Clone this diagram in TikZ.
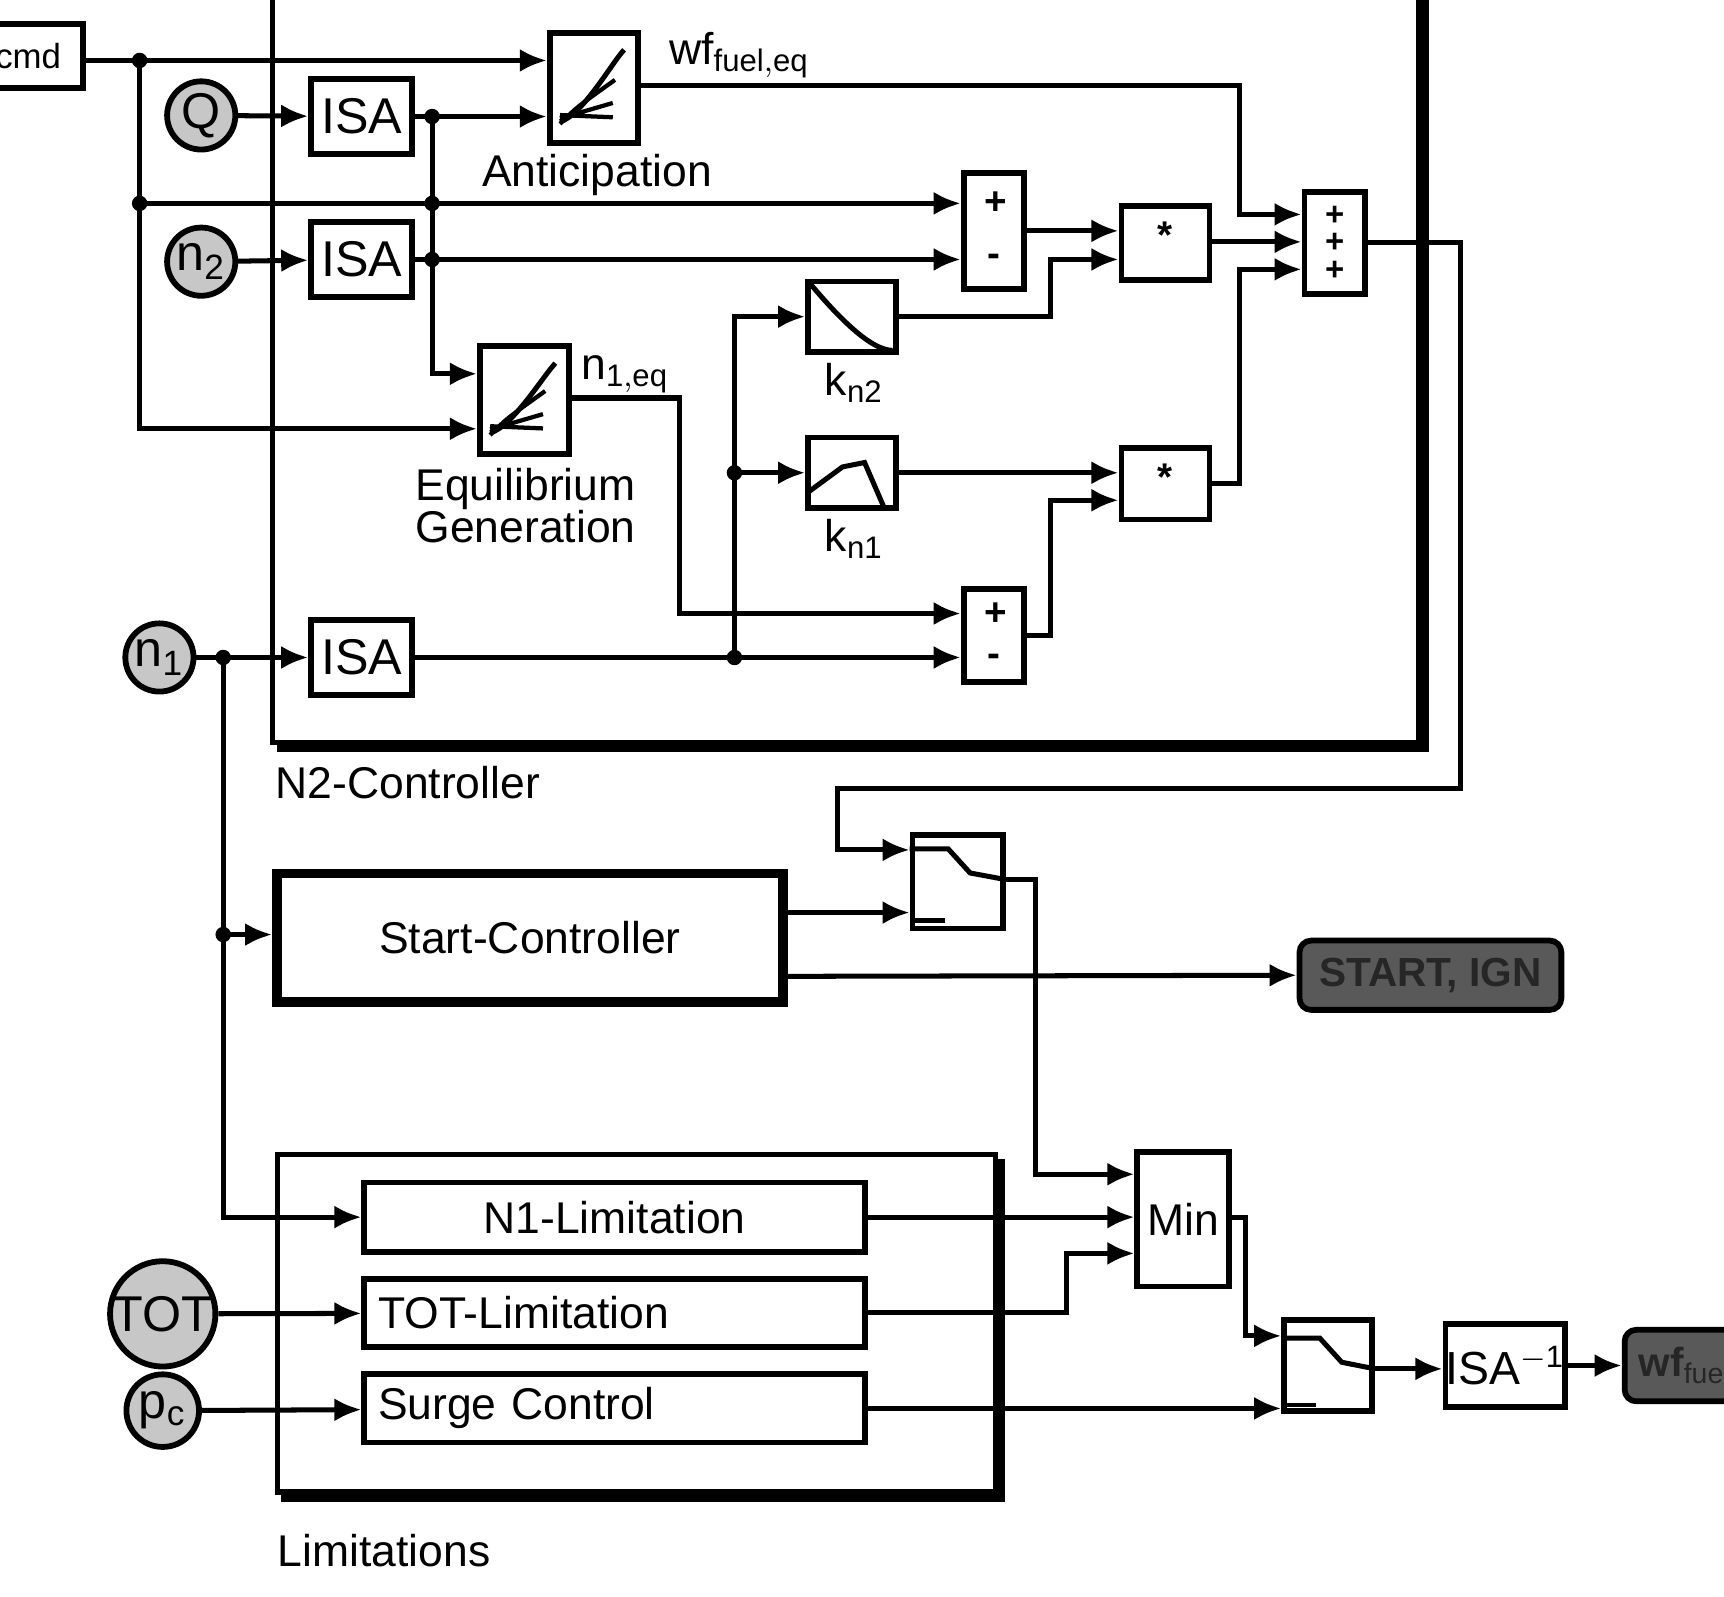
\documentclass[tikz,border=0pt]{standalone}
\usepackage{fontspec}
\setmainfont{Liberation Sans}
\usetikzlibrary{arrows.meta,calc}
\begin{document}
\begin{tikzpicture}[x=0.01cm,y=-0.01cm,
  ln/.style={line width=1.3pt},
  ar/.style={ln,-{Latex[length=7pt,width=6pt]}},
  blk/.style={draw,line width=1.5pt,inner sep=0pt,font=\fontsize{13pt}{15pt}\selectfont},
  sml/.style={draw,line width=1.5pt,inner sep=0pt,font=\fontsize{9pt}{10pt}\selectfont},
  big/.style={draw,line width=1.5pt,inner sep=0pt,font=\fontsize{11.5pt}{13pt}\selectfont},
  inp/.style={draw,circle,line width=1.5pt,fill=black!22,inner sep=0pt,font=\fontsize{13pt}{15pt}\selectfont},
  dark/.style={draw,line width=1.5pt,rounded corners=3pt,fill=black!65,text=black!85,inner sep=0pt,font=\bfseries\fontsize{10.5pt}{12pt}\selectfont},
  lbl/.style={font=\fontsize{11.5pt}{13pt}\selectfont,inner sep=0pt},
  op/.style={font=\bfseries\fontsize{10pt}{10pt}\selectfont,inner sep=0pt},
  dot/.style={circle,fill,inner sep=0pt,minimum size=4pt}]
\useasboundingbox (0,0) rectangle (1568,1452);
% frames
\draw[line width=1.3pt] (248,-20) -- (248,675) -- (1290,675) -- (1290,-20);
\draw[line width=3pt] (1294,-20) -- (1294,679) -- (252,679);
\node[lbl,anchor=west] (n2lab) at (250,712) {N2-Controller};
\draw[line width=1.3pt] (252,1050) rectangle (905,1357);
\draw[line width=3pt] (909,1054) -- (909,1361) -- (256,1361);
\node[lbl,anchor=west] (limlab) at (252,1410) {Limitations};
% blocks
\node[sml,minimum width=1.05cm,minimum height=0.58cm] (cmd) at (23,51) {\,cmd};
\node[inp,minimum size=0.62cm] (Q) at (183,105) {Q};
\node[inp,minimum size=0.62cm] (n2) at (183,238) {n$_{\mathrm 2}$};
\node[inp,minimum size=0.62cm] (n1) at (145,598) {n$_{\mathrm 1}$};
\node[inp,minimum size=0.85cm] (TOT) at (148,1195) {TOT};
\node[inp,minimum size=0.66cm] (pc) at (148,1283) {p$_{\mathrm c}$};
\node[blk,minimum width=0.92cm,minimum height=0.68cm] (isa1) at (329,106) {ISA};
\node[blk,minimum width=0.92cm,minimum height=0.68cm] (isa2) at (329,236) {ISA};
\node[blk,minimum width=0.92cm,minimum height=0.68cm] (isa3) at (329,598) {ISA};
\node[draw,line width=1.5pt,minimum width=0.8cm,minimum height=1.0cm] (ant) at (540,80) {};
\node[lbl,anchor=north] (antlab) at (543,140) {Anticipation};
\node[lbl,anchor=south west] (wfeq) at (608,72) {wf$_{\mathrm{fuel,eq}}$};
\node[draw,line width=1.5pt,minimum width=0.81cm,minimum height=0.98cm] (eq) at (477,364) {};
\node[lbl,anchor=north,align=center] (eqlab) at (478,425) {Equilibrium\\[-2pt]Generation};
\node[lbl,anchor=south west] (n1eq) at (528,358) {n$_{\mathrm{1,eq}}$};
\node[draw,line width=1.5pt,minimum width=0.8cm,minimum height=0.64cm] (kn2) at (775,288) {};
\node[lbl] (kn2lab) at (777,348) {k$_{\mathrm{n2}}$};
\node[draw,line width=1.5pt,minimum width=0.8cm,minimum height=0.64cm] (kn1) at (775,430) {};
\node[lbl] (kn1lab) at (777,490) {k$_{\mathrm{n1}}$};
\node[draw,line width=1.5pt,minimum width=0.55cm,minimum height=1.05cm] (s1) at (904,210) {};
\node[op] (s1p) at (906,185) {+};
\node[op] (s1m) at (904,237) {-};
\node[draw,line width=1.5pt,minimum width=0.55cm,minimum height=0.85cm] (s2) at (904,578) {};
\node[op] (s2p) at (906,559) {+};
\node[op] (s2m) at (904,601) {-};
\node[draw,line width=1.5pt,minimum width=0.8cm,minimum height=0.67cm] (m1) at (1060,221) {};
\node[op] (m1s) at (1060,214) {*};
\node[draw,line width=1.5pt,minimum width=0.8cm,minimum height=0.65cm] (m2) at (1060,440) {};
\node[op] (m2s) at (1060,434) {*};
\node[draw,line width=1.5pt,minimum width=0.55cm,minimum height=0.93cm] (s4) at (1214,221) {};
\node[op,font=\bfseries\fontsize{8.5pt}{8.5pt}\selectfont] (s4a) at (1214,196) {+};
\node[op,font=\bfseries\fontsize{8.5pt}{8.5pt}\selectfont] (s4b) at (1214,221) {+};
\node[op,font=\bfseries\fontsize{8.5pt}{8.5pt}\selectfont] (s4c) at (1214,246) {+};
\node[big,line width=2.5pt,minimum width=4.6cm,minimum height=1.17cm] (start) at (482,853) {Start-Controller};
\node[draw,line width=1.5pt,minimum width=0.82cm,minimum height=0.85cm] (sw1) at (871,802) {};
\node[dark,minimum width=2.38cm,minimum height=0.63cm] (ign) at (1301,887) {START, IGN};
\node[big,minimum width=4.55cm,minimum height=0.63cm] (n1lim) at (559,1107) {N1-Limitation};
\node[big,minimum width=4.55cm,minimum height=0.62cm,text width=4.3cm] (totlim) at (559,1194) {TOT-Limitation};
\node[big,minimum width=4.55cm,minimum height=0.62cm,text width=4.3cm] (surge) at (559,1281) {Surge Control};
\node[draw,line width=1.5pt,minimum width=0.83cm,minimum height=1.22cm,font=\fontsize{11.5pt}{13pt}\selectfont,inner sep=1pt] (min) at (1076,1109) {Min};
\node[draw,line width=1.5pt,minimum width=0.8cm,minimum height=0.83cm] (sw2) at (1208,1242) {};
\node[blk,minimum width=1.02cm,minimum height=0.75cm,font=\fontsize{12pt}{14pt}\selectfont] (isainv) at (1369,1242) {ISA$^{\mathrm{-1}}$};
\node[dark,minimum width=1.1cm,minimum height=0.65cm,anchor=west] (wfout) at (1475,1242) {wf$_{\mathrm{fuel}}$};
% icons
\draw[line width=1.3pt] ($(ant.south west)+(12,-22)$) .. controls +(20,-5) and +(-10,10) .. ($(ant.north east)+(-15,18)$);
\draw[line width=1.1pt] ($(ant.south west)+(12,-25)$) -- +(48,-14) ($(ant.south west)+(12,-28)$) -- +(48,2) ($(ant.south west)+(12,-20)$) .. controls +(15,-15) .. +(50,-40);
\draw[line width=1.3pt] ($(eq.south west)+(12,-22)$) .. controls +(20,-5) and +(-10,10) .. ($(eq.north east)+(-15,18)$);
\draw[line width=1.1pt] ($(eq.south west)+(12,-25)$) -- +(48,-14) ($(eq.south west)+(12,-28)$) -- +(48,2) ($(eq.south west)+(12,-20)$) .. controls +(15,-15) .. +(50,-40);
\draw[line width=1.3pt] ($(kn2.north west)+(4,4)$) .. controls +(25,30) and +(-20,0) .. ($(kn2.south east)+(-6,-4)$);
\draw[line width=1.3pt] ($(kn1.south west)+(4,-18)$) -- +(30,-22) -- +(50,-26) -- ($(kn1.south east)+(-14,-4)$);
\draw[line width=1.3pt] ($(sw1.west)+(0,-30)$) -- +(35,0) -- +(55,22) -- ($(sw1.east)+(0,-2)$);
\draw[line width=1.1pt] ($(sw1.south west)+(2,-10)$) -- +(30,0);
\draw[line width=1.3pt] ($(sw2.west)+(0,-25)$) -- +(35,0) -- +(55,22) -- ($(sw2.east)+(0,3)$);
\draw[line width=1.1pt] ($(sw2.south west)+(2,-8)$) -- +(30,0);
% connectors
\coordinate (jc) at (127,55);
\coordinate (ant1) at ($(ant.west)+(0,-25)$);
\coordinate (ant2) at ($(ant.west)+(0,25)$);
\draw[ar] (cmd.east |- jc) -- (ant1);
\draw[ar] (Q) -- (isa1);
\draw[ar] (isa1.east) -- (ant2 |- isa1.east);
\coordinate (ji) at (393,106);
\draw[ar] (ji) -- (393,340) -- (eq.west |- 0,340);
\draw[ar] (jc) -- (127,390) -- (eq.west |- 0,390);
\draw[ar] (127,185) -- (s1.west |- 0,185);
\draw[ar] (n2) -- (isa2);
\draw[ar] (isa2.east) -- (s1.west |- isa2.east);
\draw[ar] (ant.east |- 0,78) -- (1127,78) -- (1127,195) -- (s4.west |- 0,195);
\draw[ar] (s1.east) -- (m1.west |- s1.east);
\draw[ar] (kn2.east) -- (955,288) -- (955,236) -- (m1.west |- 0,236);
\draw[ar] (668,598) -- (668,288) -- (kn2.west);
\draw[ar] (668,430) -- (kn1.west);
\draw[ar] (kn1.east) -- (m2.west |- kn1.east);
\draw[ar] (s2.east) -- (955,578) -- (955,455) -- (m2.west |- 0,455);
\draw[ar] (eq.east |- 0,362) -- (618,362) -- (618,558) -- (s2.west |- 0,558);
\draw[ar] (n1) -- (isa3);
\draw[ar] (isa3.east) -- (s2.west |- 0,598);
\draw[ar] (m1.east |- 0,220) -- (s4.west |- 0,220);
\draw[ar] (m2.east) -- (1127,440) -- (1127,245) -- (s4.west |- 0,245);
\draw[ar] (s4.east) -- (1328,221) -- (1328,717) -- (762,717) -- (762,773) -- (sw1.west |- 0,773);
\coordinate (jn) at (203,598);
\draw[ar] (jn) -- (203,1107) -- (n1lim.west);
\draw[ar] (203,850) -- (start.west |- 0,850);
\draw[ar] (start.east |- 0,830) -- (sw1.west |- 0,830);
\draw[ar] (start.east |- 0,888) -- (ign.west);
\draw[ar] (sw1.east |- 0,800) -- (942,800) -- (942,1068) -- (min.west |- 0,1068);
\draw[ar] (TOT) -- (totlim);
\draw[ar] (pc) -- (surge);
\draw[ar] (n1lim.east) -- (min.west |- n1lim.east);
\draw[ar] (totlim.east) -- (970,1194) -- (970,1140) -- (min.west |- 0,1140);
\draw[ar] (min.east |- 0,1107) -- (1133,1107) -- (1133,1215) -- (sw2.west |- 0,1215);
\draw[ar] (surge.east) -- (sw2.west |- surge.east);
\draw[ar] (sw2.east |- 0,1245) -- (isainv.west |- 0,1245);
\draw[ar] (isainv.east) -- (wfout.west);
\foreach \p in {(jc),(127,185),(ji),(393,185),(393,236),(668,430),(668,598),(jn),(203,850)} \node[dot] at \p {};
\end{tikzpicture}
\end{document}
